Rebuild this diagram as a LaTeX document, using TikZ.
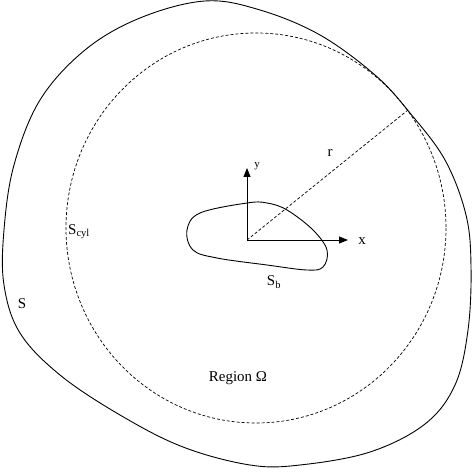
\documentclass[tikz,border=0pt]{standalone}
\usepackage{fontspec}
\setmainfont{Liberation Serif}
\usetikzlibrary{arrows.meta}
\begin{document}
\begin{tikzpicture}[x=1bp,y=-1bp,
  curve/.style={line width=0.9pt,black},
  dash line/.style={dashed,dash pattern=on 3pt off 2pt,line width=0.7pt},
  axis/.style={line width=0.8pt,-{Triangle[width=7pt,length=9pt]}},
  lbl/.style={font=\fontsize{15}{16}\selectfont,inner sep=1pt},
  small lbl/.style={font=\fontsize{11}{12}\selectfont,inner sep=1pt}]
\useasboundingbox (0,0) rectangle (474,474);
% outer boundary S
\draw[curve] plot[smooth cycle,tension=0.6] coordinates {
 (205,1) (260,10) (320,35) (375,75) (410,113) (445,160) (466,215)
 (471,267) (468,330) (455,385) (425,424) (370,452) (300,465) (250,465)
 (183,447) (120,415) (60,375) (20,333) (4,285) (4,230) (14,165)
 (40,100) (85,50) (140,18)};
% dashed cylinder
\draw[dash line] (256,228) ellipse [x radius=190,y radius=195];
% body Sb
\draw[curve] plot[smooth cycle,tension=0.6] coordinates {
 (187,230) (200,213) (247,203) (267,203) (287,210) (313,230) (327,250)
 (323,267) (307,270) (267,265) (217,258) (193,250)};
\coordinate (o) at (247,240);
\coordinate (ye) at (247,168);
\coordinate (xe) at (348,240);
\coordinate (re) at (408,110);
\draw[axis] (o) -- (ye);
\draw[axis] (o) -- (xe);
\draw[dash line] (o) -- (re);
\node[small lbl] (ylab) at (257,166) {y};
\node[lbl] (xlab) at (362,241) {x};
\node[lbl] (rlab) at (330,153) {r};
\node[lbl] (sb) at (274,282) {S\textsubscript{b}};
\node[lbl] (scyl) at (79,232) {S\textsubscript{cyl}};
\node[lbl] (s) at (22,304) {S};
\node[lbl] (omega) at (238,378) {Region Ω};
\end{tikzpicture}
\end{document}
